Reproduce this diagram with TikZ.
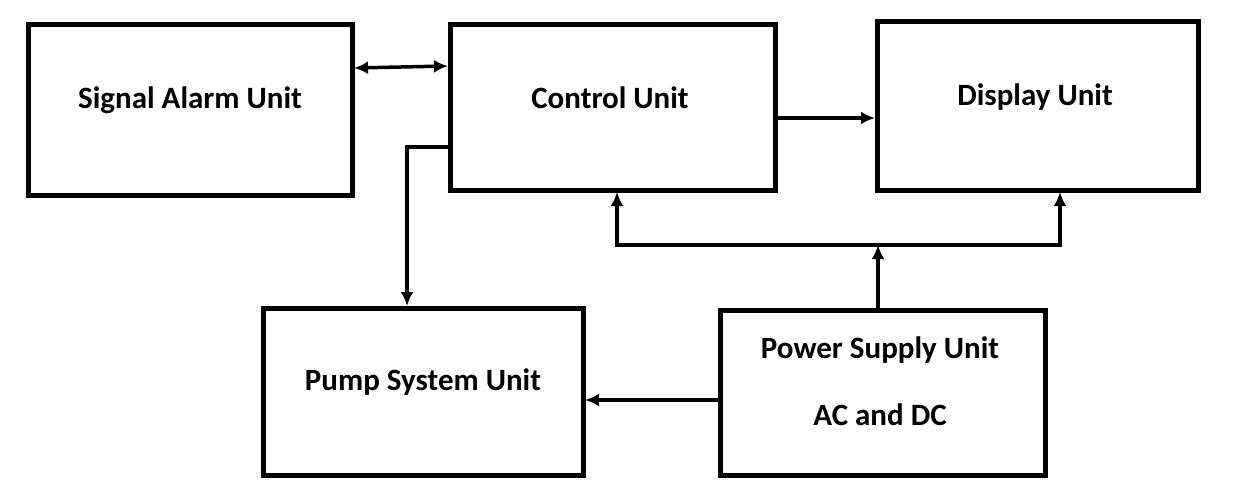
\documentclass[tikz,border=0pt]{standalone}
\usepackage{fontspec}
\setmainfont{Carlito}
\usetikzlibrary{arrows.meta}
\begin{document}
\begin{tikzpicture}[x=1pt,y=-1pt,
  blk/.style={draw,line width=5pt},
  lbl/.style={font=\bfseries\fontsize{31}{36}\selectfont},
  conn/.style={line width=3.5pt,-{Latex[length=14pt,width=13pt]}}]
\useasboundingbox (0,0) rectangle (1236,484);
\draw[blk] (28,25) rectangle (352,195);
\draw[blk] (450,25) rectangle (775,190);
\draw[blk] (877,22) rectangle (1198,190);
\draw[blk] (263,308) rectangle (583,475);
\draw[blk] (720,310) rectangle (1045,475);
\node[lbl] (sa) at (190,100) {Signal Alarm Unit};
\node[lbl] (cu) at (610,98) {Control Unit};
\node[lbl] (du) at (1035,97) {Display Unit};
\node[lbl] (pu) at (423,382) {Pump System Unit};
\node[lbl] (ps) at (880,350) {Power Supply Unit};
\node[lbl] (ac) at (880,415) {AC and DC};
\coordinate (saR) at (354,68); \coordinate (cuL) at (448,66);
\draw[conn,{Latex[length=14pt,width=13pt]}-{Latex[length=14pt,width=13pt]}] (saR) -- (cuL);
\coordinate (cuR) at (777,118); \coordinate (duL) at (875,118);
\draw[conn] (cuR) -- (duL);
\coordinate (cuL2) at (448,147); \coordinate (puT) at (407,306);
\draw[conn] (cuL2) -| (puT);
\coordinate (psT) at (878,308); \coordinate (bus) at (878,245);
\draw[conn] (psT) -- (bus);
\coordinate (cuB) at (617,192); \coordinate (duB) at (1060,192);
\draw[conn] (bus) -| (cuB);
\draw[conn] (bus) -| (duB);
\coordinate (psL) at (718,400); \coordinate (puR) at (585,400);
\draw[conn] (psL) -- (puR);
\end{tikzpicture}
\end{document}
